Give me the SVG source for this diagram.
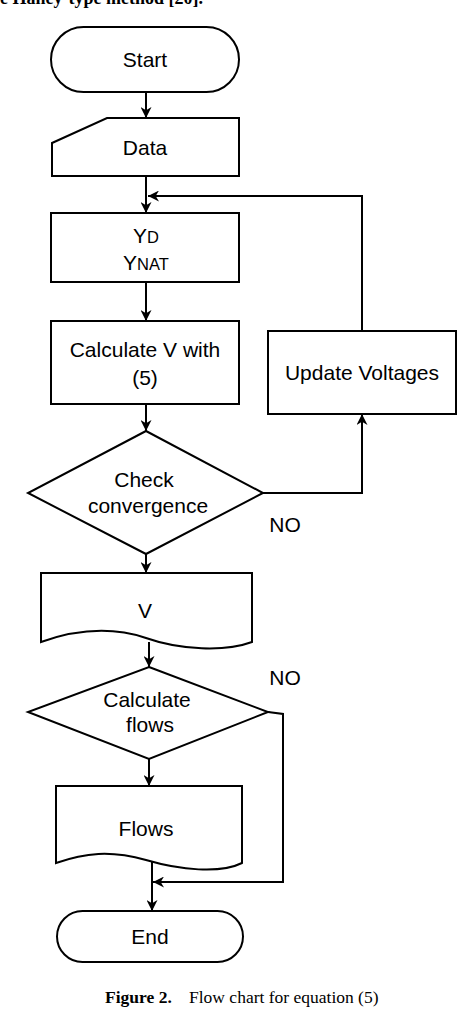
<svg xmlns="http://www.w3.org/2000/svg" width="474" height="1034" viewBox="0 0 474 1034">
<style>
.s{fill:#fff;stroke:#000;stroke-width:2;stroke-linejoin:miter}
.t{font-family:"Liberation Sans",Arial,sans-serif;font-size:21px;fill:#000;text-anchor:middle}
.sm{font-size:16.5px}
.c{fill:none;stroke:#000;stroke-width:2}
.cap{font-family:"Liberation Serif","Times New Roman",serif;font-size:17.5px;fill:#000}
</style>
<defs>
<marker id="ah" viewBox="0 0 10 10" refX="10" refY="5" markerWidth="11" markerHeight="11" markerUnits="userSpaceOnUse" orient="auto">
<path d="M0,0 L10,5 L0,10 L3,5 z" fill="#000"/>
</marker>
</defs>
<text x="0" y="4" font-family="Liberation Serif,'Times New Roman',serif" font-weight="bold" font-size="18">e Haney-type method [20].</text>
<g id="connectors">
<line class="c" x1="146" y1="92" x2="146" y2="118" marker-end="url(#ah)"/>
<line class="c" x1="146" y1="176" x2="146" y2="213" marker-end="url(#ah)"/>
<polyline class="c" points="362,331 362,196 148,196" marker-end="url(#ah)"/>
<line class="c" x1="146" y1="282" x2="146" y2="321" marker-end="url(#ah)"/>
<line class="c" x1="146" y1="404" x2="146" y2="431" marker-end="url(#ah)"/>
<polyline class="c" points="263,493 362,493 362,414" marker-end="url(#ah)"/>
<line class="c" x1="146" y1="554" x2="146" y2="573" marker-end="url(#ah)"/>
<line class="c" x1="149" y1="642" x2="149" y2="667" marker-end="url(#ah)"/>
<line class="c" x1="149" y1="759" x2="149" y2="786" marker-end="url(#ah)"/>
<polyline class="c" points="268,712 283,714 283,882 153,882" marker-end="url(#ah)"/>
<line class="c" x1="152" y1="861" x2="152" y2="911" marker-end="url(#ah)"/>
</g>
<g id="start">
<rect class="s" x="51" y="27" width="188" height="65" rx="32.5"/>
<text class="t" x="145" y="67">Start</text>
</g>
<g id="data">
<polygon class="s" points="52,143 107,118 239,118 239,176 52,176"/>
<text class="t" x="145" y="155">Data</text>
</g>
<g id="ydnat">
<rect class="s" x="51" y="213" width="188" height="69"/>
<text class="t" x="146" y="243">Y<tspan class="sm">D</tspan></text>
<text class="t" x="146" y="270">Y<tspan class="sm">NAT</tspan></text>
</g>
<g id="calcV">
<rect class="s" x="51" y="321" width="188" height="83"/>
<text class="t" x="145" y="357">Calculate V with</text>
<text class="t" x="145" y="385">(5)</text>
</g>
<g id="update">
<rect class="s" x="268" y="331" width="188" height="83"/>
<text class="t" x="362" y="380">Update Voltages</text>
</g>
<g id="check">
<polygon class="s" points="146,431 263,493 146,554 28,493"/>
<text class="t" x="144" y="487">Check</text>
<text class="t" x="148" y="513">convergence</text>
</g>
<text class="t" x="285" y="532">NO</text>
<g id="v">
<path class="s" d="M41,573 L252,573 L252,642 C225,652 180,650 146,638 C110,626 75,630 41,642 Z"/>
<text class="t" x="145" y="618">V</text>
</g>
<g id="flowsDec">
<polygon class="s" points="149,667 268,712 149,759 28,712"/>
<text class="t" x="147" y="707">Calculate</text>
<text class="t" x="150" y="732">flows</text>
</g>
<text class="t" x="285" y="685">NO</text>
<g id="flows">
<path class="s" d="M56,786 L242,786 L242,863 C220,874 180,870 146,860 C110,850 85,853 56,863 Z"/>
<text class="t" x="146" y="836">Flows</text>
</g>
<g id="end">
<rect class="s" x="57" y="911" width="186" height="51" rx="25.5"/>
<text class="t" x="150" y="944">End</text>
</g>
<text class="cap" y="1003"><tspan x="105" font-weight="bold">Figure 2.</tspan><tspan x="189">Flow chart for equation (5)</tspan></text>
</svg>
